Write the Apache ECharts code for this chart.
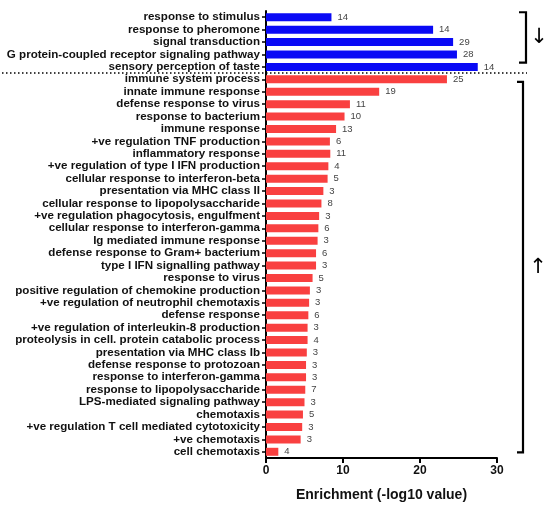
<!DOCTYPE html>
<html><head><meta charset="utf-8">
<script src="https://cdn.jsdelivr.net/npm/echarts@6/dist/echarts.min.js"></script>
<style>html,body{margin:0;padding:0;background:#fff}#c{width:550px;height:507px}</style>
</head><body><div id="c"></div>
<script>
const downTerms = ["response to stimulus","response to pheromone","signal transduction","G protein-coupled receptor signaling pathway","sensory perception of taste"];
const downValues = [8.5,21.7,24.3,24.8,27.5];
const downCounts = [14,14,29,28,14];
const upTerms = ["immune system process","innate immune response","defense response to virus","response to bacterium","immune response","+ve regulation TNF production","inflammatory response","+ve regulation of type I IFN production","cellular response to interferon-beta","presentation via MHC class II","cellular response to lipopolysaccharide","+ve regulation phagocytosis, engulfment","cellular response to interferon-gamma","Ig mediated immune response","defense response to Gram+ bacterium","type I IFN signalling pathway","response to virus","positive regulation of chemokine production","+ve regulation of neutrophil chemotaxis","defense response","+ve regulation of interleukin-8 production","proteolysis in cell. protein catabolic process","presentation via MHC class Ib","defense response to protozoan","response to interferon-gamma","response to lipopolysaccharide","LPS-mediated signaling pathway","chemotaxis","+ve regulation T cell mediated cytotoxicity","+ve chemotaxis","cell chemotaxis"];
const upValues = [23.5,14.7,10.9,10.2,9.1,8.3,8.35,8.1,8.0,7.45,7.2,6.9,6.8,6.7,6.5,6.5,6.05,5.7,5.6,5.5,5.4,5.4,5.3,5.2,5.2,5.1,5.0,4.8,4.7,4.5,1.6];
const upCounts = [25,19,11,10,13,6,11,4,5,3,8,3,6,3,6,3,5,3,3,6,3,4,3,3,3,7,3,5,3,3,4];
const xTicks = [0,10,20,30];

const BLUE = '#0a0af5', RED = '#f94040';
const categories = downTerms.concat(upTerms);
const data = [];
downValues.forEach((v,i)=>data.push({value:v, count:downCounts[i], itemStyle:{color:BLUE}}));
upValues.forEach((v,i)=>data.push({value:v, count:upCounts[i], itemStyle:{color:RED}}));

const chart = echarts.init(document.getElementById('c'), null, {renderer:'canvas'});
const FONT = 'Liberation Sans, Arial, sans-serif';
chart.setOption({
  animation:false,
  grid:{left:266, right:53, top:11, bottom:46, containLabel:false},
  xAxis:{type:'value', min:xTicks[0], max:xTicks[xTicks.length-1], interval:10,
    name:'Enrichment (-log10 value)', nameLocation:'middle', nameGap:30,
    nameTextStyle:{fontFamily:FONT, fontWeight:'bold', fontSize:14, color:'#111'},
    axisLine:{show:true, lineStyle:{color:'#000', width:2}},
    axisTick:{show:true, length:5, lineStyle:{color:'#000', width:2}},
    axisLabel:{fontFamily:FONT, fontWeight:'bold', fontSize:12, color:'#111', margin:7},
    splitLine:{show:false}},
  yAxis:{type:'category', data:categories, inverse:true,
    axisLine:{show:true, lineStyle:{color:'#000', width:2}},
    axisTick:{show:true, alignWithLabel:true, length:4, lineStyle:{color:'#000', width:1.5}},
    axisLabel:{fontFamily:FONT, fontWeight:'bold', fontSize:11.6, color:'#111', margin:6, interval:0}},
  series:[{type:'bar', data:data, barWidth:8,
    label:{show:true, position:'right', distance:6, fontFamily:FONT, fontSize:9.5, color:'#444',
      formatter:p=>String(p.data.count)}}]
});

function px(cat){ return chart.convertToPixel({yAxisIndex:0}, cat); }
const nDown = downTerms.length, n = categories.length;
const band = px(categories[1]) - px(categories[0]);
const sepY = (px(categories[nDown-1]) + px(categories[nDown]))/2;
const topA = px(categories[0]) - band*0.4, topB = px(categories[nDown-1]) - band*0.35;
const botA = px(categories[nDown]) + band*0.2, botB = px(categories[n-1]) + band*0.05;
chart.setOption({graphic:[
  {type:'line', shape:{x1:2, y1:sepY, x2:527, y2:sepY}, style:{stroke:'#000', lineWidth:1.5, lineDash:[1.5,2.5]}},
  {type:'polyline', shape:{points:[[519,topA],[526,topA],[526,topB],[519,topB]]}, style:{stroke:'#000', lineWidth:2.2, fill:null}},
  {type:'polyline', shape:{points:[[517,botA],[523,botA],[523,botB],[517,botB]]}, style:{stroke:'#000', lineWidth:2.2, fill:null}},
  {type:'text', style:{text:'↓', x:539, y:(topA+topB)/2, align:'center', verticalAlign:'middle', fontSize:21, fontFamily:'DejaVu Sans', fill:'#000'}},
  {type:'text', style:{text:'↑', x:538, y:(botA+botB)/2, align:'center', verticalAlign:'middle', fontSize:21, fontFamily:'DejaVu Sans', fill:'#000'}}
]});
</script></body></html>
